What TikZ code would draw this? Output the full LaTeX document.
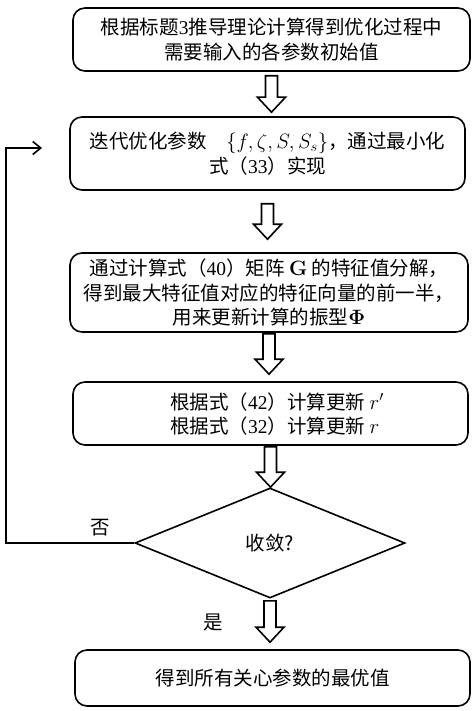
\documentclass[tikz,border=0pt]{standalone}
\usepackage[no-math]{fontspec}
\setmainfont{Noto Sans CJK SC}
\newfontfamily\lat{Liberation Serif}
\usetikzlibrary{shapes.geometric,arrows.meta,calc}
\newcommand\harrow[4]{%
  \draw[hollow] let \p1=(#1.south), \p2=(#2.north) in
  (\x1-6pt,\y1-#3) -- (\x1-6pt,\y2+#4+15pt) -- (\x1-14pt,\y2+#4+15pt) --
  (\x1,\y2+#4) -- (\x1+14pt,\y2+#4+15pt) -- (\x1+6pt,\y2+#4+15pt) --
  (\x1+6pt,\y1-#3) -- cycle;}
\begin{document}
\begin{tikzpicture}[x=1pt,y=-1pt,
  txt/.style={font=\fontsize{19.5}{24.5}\selectfont},
  box/.style={draw, line width=1.6pt, rounded corners=12pt, align=center, inner sep=0pt, txt},
  dia/.style={draw, line width=1.6pt, diamond, inner sep=0pt, txt},
  hollow/.style={draw, line width=1.6pt, line join=miter},
  conn/.style={draw, line width=1.6pt}]
\useasboundingbox (0,0) rectangle (474,711);

\node[box, minimum width=397pt, minimum height=63pt] (b1) at (271.5,39.5)
  {根据标题{\lat 3}推导理论计算得到优化过程中\\需要输入的各参数初始值};

\node[box, minimum width=395pt, minimum height=73pt] (b2) at (267.5,153.5)
  {迭代优化参数\quad$\{f,\zeta,S,S_s\}$，通过最小化\\式（{\lat 33}）实现};

\node[box, minimum width=398pt, minimum height=79pt] (b3) at (269,292.5)
  {通过计算式（{\lat 40}）矩阵 $\mathbf{G}$ 的特征值分解，\\得到最大特征值对应的特征向量的前一半，\\用来更新计算的振型$\mathbf{\Phi}$};

\node[box, minimum width=395pt, minimum height=63pt] (b4) at (270.5,413.5) {};
\node[txt, align=left, anchor=west, inner sep=0pt] (t4) at (170,414)
  {根据式（{\lat 42}）计算更新 $r'$\\根据式（{\lat 32}）计算更新 $r$};

\node[dia, minimum width=270pt, minimum height=110pt] (d) at (270,543) {收敛?};

\node[box, minimum width=395pt, minimum height=56pt] (b6) at (272.5,678)
  {得到所有关心参数的最优值};

\harrow{b1}{b2}{4pt}{4pt}
\harrow{b2}{b3}{13pt}{13pt}
\harrow{b3}{b4}{1pt}{7pt}
\harrow{b4}{d}{1pt}{0pt}
\harrow{d}{b6}{2pt}{7pt}

\coordinate (fbtop) at (6,148);
\coordinate (fbend) at (42,148);
\draw[conn, -{Straight Barb[length=8pt,width=13pt,line width=1.6pt]}] (d.west) -| (fbtop) -- (fbend);

\node[txt] (no) at (100,528) {否};
\node[txt] (yes) at (213,622) {是};
\end{tikzpicture}
\end{document}
